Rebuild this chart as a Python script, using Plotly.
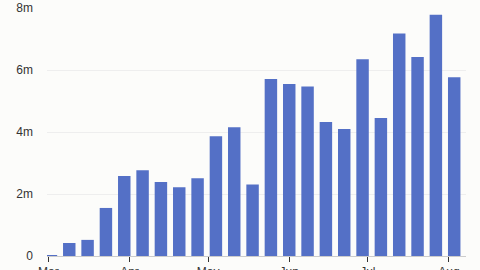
import plotly.graph_objects as go

weeks = ["2020-03-02", "2020-03-09", "2020-03-16", "2020-03-23", "2020-03-30",
         "2020-04-06", "2020-04-13", "2020-04-20", "2020-04-27", "2020-05-04",
         "2020-05-11", "2020-05-18", "2020-05-25", "2020-06-01", "2020-06-08",
         "2020-06-15", "2020-06-22", "2020-06-29", "2020-07-06", "2020-07-13",
         "2020-07-20", "2020-07-27", "2020-08-03"]
values = [0.03, 0.42, 0.52, 1.55, 2.58, 2.77, 2.39, 2.22, 2.51, 3.86,
          4.15, 2.31, 5.71, 5.55, 5.47, 4.32, 4.10, 6.35, 4.45, 7.18,
          6.42, 7.78, 5.77]
values_m = [v * 1e6 for v in values]

y_ticks = [0, 2e6, 4e6, 6e6, 8e6]
y_labels = ["0", "2m", "4m", "6m", "8m"]
x_ticks = ["2020-03-01", "2020-04-01", "2020-05-01", "2020-06-01", "2020-07-01", "2020-08-01"]
x_labels = ["Mar", "Apr", "May", "Jun", "Jul", "Aug"]

fig = go.Figure(go.Bar(
    x=weeks, y=values_m,
    marker=dict(color="#5470c6", line=dict(width=0)),
    hoverinfo="skip",
))

fig.update_layout(
    width=480, height=270,
    margin=dict(l=47, r=14, t=8, b=14, autoexpand=False),
    paper_bgcolor="#fcfcfa", plot_bgcolor="#fcfcfa",
    bargap=0.32,
    showlegend=False,
    font=dict(family="Liberation Sans, Arial, sans-serif", size=12, color="#333333"),
    xaxis=dict(
        range=["2020-02-29 12:00", "2020-08-07 12:00"],
        tickvals=x_ticks, ticktext=x_labels,
        ticks="outside", ticklen=5, tickcolor="#333333", tickwidth=1,
        showgrid=False, zeroline=False,
        showline=True, linecolor="#cccccc", linewidth=1,
        tickfont=dict(size=12, color="#333333"),
        ticklabelstandoff=0,
        automargin=False,
    ),
    yaxis=dict(
        range=[0, 8e6],
        tickvals=y_ticks, ticktext=y_labels,
        showgrid=True, gridcolor="#eeeeee", gridwidth=1,
        zeroline=False, showline=False,
        tickfont=dict(size=12, color="#333333"),
        ticklabelstandoff=13,
        automargin=False,
    ),
)

fig.write_html("out.html")
